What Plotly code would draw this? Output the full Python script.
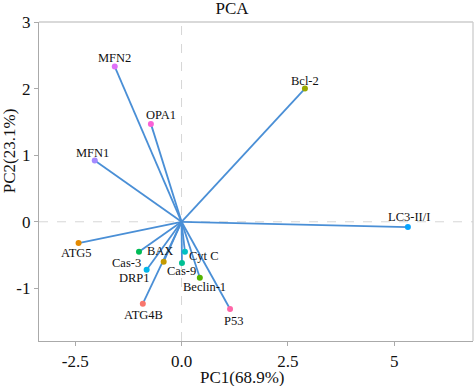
import plotly.graph_objects as go

# ---- data ----
variables = ["ATG4B", "ATG5", "BAX", "Bcl-2", "Beclin-1", "Cas-3", "Cas-9",
             "Cyt C", "DRP1", "LC3-II/I", "MFN1", "MFN2", "OPA1", "P53"]
pc1 = [-0.91, -2.42, -0.42, 2.90, 0.43, -1.00, 0.01,
       0.08, -0.82, 5.32, -2.04, -1.57, -0.72, 1.14]
pc2 = [-1.23, -0.32, -0.60, 2.00, -0.84, -0.45, -0.62,
       -0.45, -0.72, -0.08, 0.92, 2.33, 1.47, -1.31]
x_tickvals = [-2.5, 0, 2.5, 5]
x_ticktext = ["-2.5", "0.0", "2.5", "5"]
y_tickvals = [-1, 0, 1, 2, 3]
y_ticktext = ["-1", "0", "1", "2", "3"]

# ---- styling ----
colors = ["#F8766D", "#E38900", "#C49A00", "#99A800", "#53B400", "#00BC56", "#00C094",
          "#00BFC4", "#00B6EB", "#06A4FF", "#A58AFF", "#DF70F8", "#FB61D7", "#FF66A8"]
# label pixel offsets (xshift, yshift) per variable
label_shift = {
    "ATG4B": (1, -11), "ATG5": (-2, -10), "BAX": (-4, 11), "Bcl-2": (0, 8),
    "Beclin-1": (5, -9), "Cas-3": (-12, -11), "Cas-9": (0, -8), "Cyt C": (19, -4),
    "DRP1": (-12, -8), "LC3-II/I": (1, 10), "MFN1": (-2, 8), "MFN2": (0, 9),
    "OPA1": (10, 9), "P53": (3, -12),
}
FONT = "Liberation Serif, Times New Roman, serif"
LINE_BLUE = "#4a8fd6"

fig = go.Figure()

# loading vectors from origin
lx, ly = [], []
for x, y in zip(pc1, pc2):
    lx += [0, x, None]
    ly += [0, y, None]
fig.add_trace(go.Scatter(x=lx, y=ly, mode="lines",
                         line=dict(color=LINE_BLUE, width=1.8),
                         hoverinfo="skip", showlegend=False))

fig.add_trace(go.Scatter(x=pc1, y=pc2, mode="markers",
                         marker=dict(color=colors, size=6),
                         text=variables, showlegend=False))

annotations = []
for name, x, y in zip(variables, pc1, pc2):
    dx, dy = label_shift[name]
    annotations.append(dict(x=x, y=y, xref="x", yref="y", text=name, showarrow=False,
                            xshift=dx, yshift=dy, font=dict(family=FONT, size=12.5, color="#111111")))

# axis titles
annotations.append(dict(x=0.47, y=0, xref="paper", yref="paper", text="PC1(68.9%)",
                        showarrow=False, yshift=-36, yanchor="middle", xanchor="center",
                        font=dict(family=FONT, size=17, color="#111111")))
annotations.append(dict(x=0, y=0.595, xref="paper", yref="paper", text="PC2(23.1%)",
                        showarrow=False, xshift=-30, textangle=-90, xanchor="center",
                        yanchor="middle", font=dict(family=FONT, size=17, color="#111111")))

shapes = [
    dict(type="line", xref="x", yref="paper", x0=0, x1=0, y0=0, y1=1,
         line=dict(color="#d6d6d6", width=1, dash="dash"), layer="below"),
    dict(type="line", xref="paper", yref="y", x0=0, x1=1, y0=0, y1=0,
         line=dict(color="#d6d6d6", width=1, dash="dash"), layer="below"),
    dict(type="line", xref="paper", yref="paper", x0=0, x1=1, y0=1, y1=1,
         line=dict(color="#cccccc", width=1.3)),
    dict(type="line", xref="paper", yref="paper", x0=1, x1=1, y0=0, y1=1,
         line=dict(color="#cccccc", width=1.3)),
]

axis_common = dict(showgrid=False, zeroline=False, showline=True, linecolor="#aaaaaa",
                   linewidth=1.3, ticks="outside", ticklen=4, tickcolor="#aaaaaa",
                   tickfont=dict(family=FONT, size=17, color="#111111"))

fig.update_layout(
    width=474, height=386,
    margin=dict(l=39, r=1, t=22, b=45),
    paper_bgcolor="white", plot_bgcolor="white",
    title=dict(text="PCA", x=232 / 474, xref="container", xanchor="center",
               y=1 - 8 / 386, yref="container", yanchor="middle",
               font=dict(family=FONT, size=17, color="#111111")),
    xaxis=dict(range=[-3.35, 6.85], tickvals=x_tickvals, ticktext=x_ticktext, **axis_common),
    yaxis=dict(range=[-1.79, 3.0], tickvals=y_tickvals, ticktext=y_ticktext, **axis_common),
    annotations=annotations,
    shapes=shapes,
)

fig.write_html("out.html",
               config={"displayModeBar": False},
               post_script="document.body.style.margin='0';document.body.style.overflow='hidden';")
